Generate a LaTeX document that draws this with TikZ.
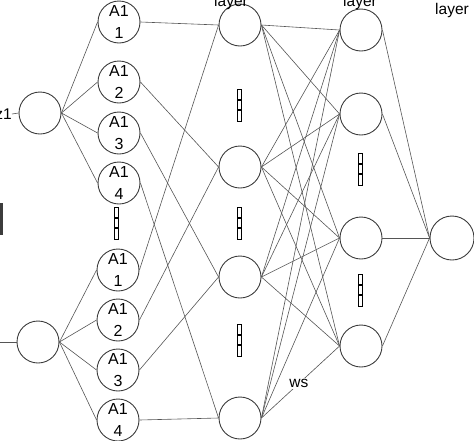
\documentclass[tikz,border=0pt]{standalone}
\usepackage{fontspec}
\setmainfont{Liberation Sans}
\usetikzlibrary{positioning,calc}
\definecolor{wireGray}{RGB}{85,85,85}
\definecolor{ringGray}{RGB}{60,60,60}
\tikzset{
  neuron/.style={circle,draw=ringGray,line width=0.9pt,minimum size=42pt,
                 inner sep=0pt,align=center,font=\fontsize{16}{22}\selectfont},
  wire/.style={draw=wireGray,line width=0.6pt},
  lbl/.style={font=\fontsize{15.5}{17}\selectfont,inner sep=0pt},
  dotsbar/.pic={
    \draw[line width=0.9pt] (-2,-16) rectangle (2,16);
    \draw[line width=1.2pt] (-2,-5) -- (2,-5) (-2,5) -- (2,5);
  }
}

\begin{document}
\begin{tikzpicture}[x=1pt,y=-1pt]
\useasboundingbox (0,0) rectangle (474,440);

% inputs
\node[neuron] (in1) at (40,113) {};
\node[neuron] (in2) at (38,342) {};
\node[lbl,anchor=east] (zlab) at (12,114) {z1};
\coordinate (feed) at (0,342);
\fill[ringGray] (0,203) rectangle (3,235);

% A1 column
\foreach \y/\k [count=\i] in {22/1,82/2,133/3,183/4}
  \node[neuron] (a\i) at (119,\y) {A1\\\k};
\foreach \y/\k [count=\i from 5] in {270/1,320/2,370/3,420/4}
  \node[neuron] (a\i) at (118,\y) {A1\\\k};

% second and third layers, output
\foreach \y [count=\i] in {25,167,277,418}
  \node[neuron] (h\i) at (240,\y) {};
\foreach \y [count=\i] in {30,114,238,346}
  \node[neuron] (g\i) at (361,\y) {};
\node[neuron,minimum size=44pt] (out) at (452,238) {};

% layer labels (cut at the top)
\node[lbl,anchor=base] (lay2) at (231,6) {layer};
\node[lbl,anchor=base] (lay3) at (360,6) {layer};
\node[lbl,anchor=base] (lay4) at (452,14) {layer};

% connections
\draw[wire] (zlab.east) -- (in1.west);
\draw[wire] (feed) -- (in2.west);
\foreach \i in {1,...,4} {
  \pgfmathtruncatemacro\j{\i+4}
  \draw[wire] (in1.east) -- (a\i.west);
  \draw[wire] (in2.east) -- (a\j.west);
  \draw[wire] (a\i.east) -- (h\i.west);
  \draw[wire] (a\j.east) -- (h\i.west);
}
\foreach \i in {1,...,4}
  \foreach \j in {1,...,4}
    \draw[wire] (h\i.east) -- (g\j.west);
\foreach \j in {1,...,4}
  \draw[wire] (g\j.east) -- (out.west);
\node[lbl,fill=white,inner sep=1pt] (ws) at ($(h4.east)!0.48!(g4.west)$) {ws};

% vertical dots
\pic at (116,223) {dotsbar};
\foreach \y in {105,223,340}
  \pic at (239,\y) {dotsbar};
\foreach \y in {169,290}
  \pic at (360,\y) {dotsbar};
\end{tikzpicture}
\end{document}
